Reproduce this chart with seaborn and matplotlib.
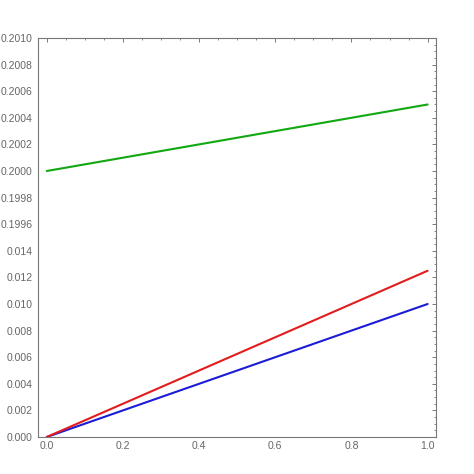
import numpy as np
import pandas as pd
import matplotlib
matplotlib.use("Agg")
import matplotlib.pyplot as plt
import seaborn as sns

# ---- data ----
x_vals = [0.0, 1.0]
blue_vals = [0.0, 0.010]
red_vals = [0.0, 0.0125]
green_vals = [0.2000, 0.2005]

lower_ticks = [0.000, 0.002, 0.004, 0.006, 0.008, 0.010, 0.012, 0.014]
upper_ticks = [0.1996, 0.1998, 0.2000, 0.2002, 0.2004, 0.2006, 0.2008, 0.2010]
lower_labels = ["0.000", "0.002", "0.004", "0.006", "0.008", "0.010", "0.012", "0.014"]
upper_labels = ["0.1996", "0.1998", "0.2000", "0.2002", "0.2004", "0.2006", "0.2008", "0.2010"]
x_ticks = [0.0, 0.2, 0.4, 0.6, 0.8, 1.0]
x_labels = ["0.0", "0.2", "0.4", "0.6", "0.8", "1.0"]

# ---- broken-axis scale ----
L_TOP, U_BOT = 0.014, 0.1996
L_STEP, U_STEP = 0.002, 0.0002


def fwd(y):
    y = np.asarray(y, dtype=float)
    lo = y / L_STEP
    mid = 7 + (y - L_TOP) / (U_BOT - L_TOP)
    hi = 8 + (y - U_BOT) / U_STEP
    return np.where(y <= L_TOP, lo, np.where(y >= U_BOT, hi, mid))


def inv(u):
    u = np.asarray(u, dtype=float)
    lo = u * L_STEP
    mid = L_TOP + (u - 7) * (U_BOT - L_TOP)
    hi = U_BOT + (u - 8) * U_STEP
    return np.where(u <= 7, lo, np.where(u >= 8, hi, mid))


sns.set_style("white")
plt.rcParams["font.family"] = ["Liberation Sans", "DejaVu Sans"]

fig = plt.figure(figsize=(4.74, 4.74), dpi=100)
ax = fig.add_axes([38 / 474, 37 / 474, 398 / 474, 399 / 474])

df = pd.DataFrame({
    "x": x_vals * 3,
    "y": blue_vals + red_vals + green_vals,
    "s": ["blue"] * 2 + ["red"] * 2 + ["green"] * 2,
})
pal = {"blue": "#1c1cd6", "red": "#e21c1c", "green": "#12a812"}
sns.lineplot(data=df, x="x", y="y", hue="s", palette=pal, ax=ax,
             linewidth=1.5, legend=False)

ax.set_yscale("function", functions=(fwd, inv))
ax.set_ylim(0.0, 0.2010)
ax.set_xlim(-0.023, 1.022)

ax.set_xticks(x_ticks)
ax.set_xticklabels(x_labels)
ax.set_xticks(np.arange(-0.0, 1.0001, 0.05), minor=True)
ax.set_yticks(lower_ticks + upper_ticks)
ax.set_yticklabels(lower_labels + upper_labels)
ax.set_yticks(inv(np.arange(0, 15.001, 0.25)), minor=True)

ax.set_xlabel("")
ax.set_ylabel("")

gray = "#666666"
for sp in ax.spines.values():
    sp.set_visible(True)
    sp.set_color("#777777")
    sp.set_linewidth(0.8)

ax.tick_params(which="both", direction="in", top=True, right=True,
               color="#777777", labelcolor=gray, labelsize=7.5)
ax.tick_params(which="major", length=3.0, width=0.7, pad=3)
ax.tick_params(which="minor", length=1.6, width=0.6)
ax.tick_params(axis="y", which="major", pad=4)

fig.savefig("out.png", dpi=100)
